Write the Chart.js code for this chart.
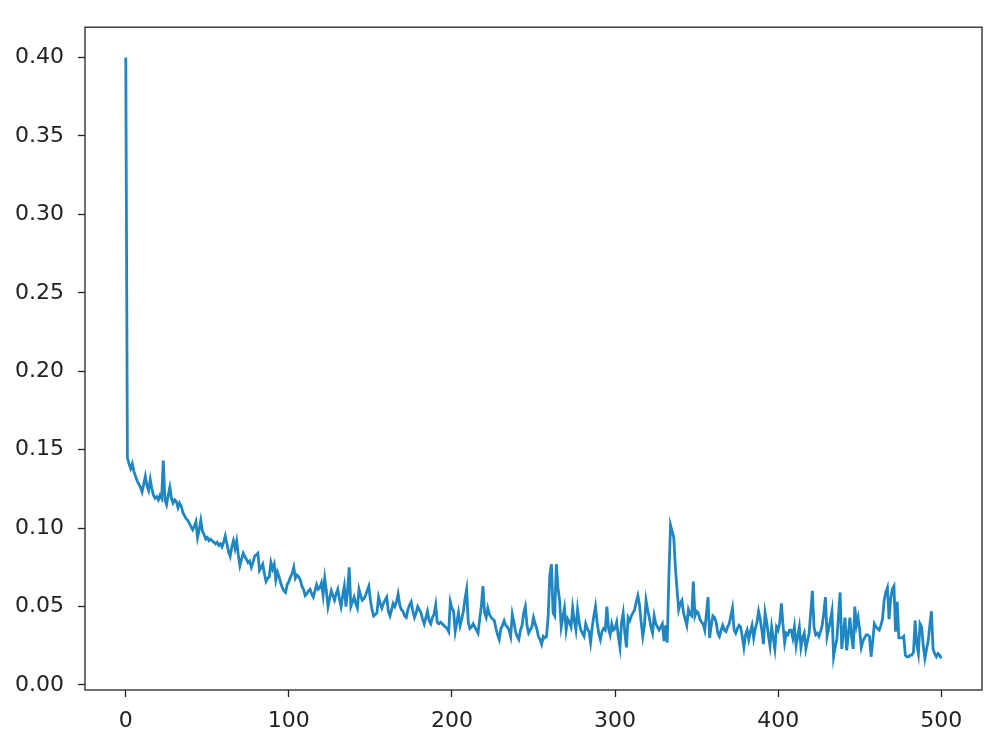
<!DOCTYPE html>
<html>
<head>
<meta charset="utf-8">
<script src="https://cdn.jsdelivr.net/npm/chart.js@4/dist/chart.umd.min.js"></script>
<style>
  html, body { margin: 0; padding: 0; background: #fff; }
  #lossChart { display: block; }
</style>
</head>
<body>
<canvas id="lossChart" width="1000" height="742"></canvas>
<script>
// courbe de loss sur 500 epochs

const lossValues = [
  0.400, 0.145, 0.141, 0.138, 0.141, 0.136, 0.133, 0.130, 0.128, 0.126,
  0.123, 0.128, 0.133, 0.127, 0.124, 0.131, 0.125, 0.121, 0.119, 0.120,
  0.118, 0.121, 0.119, 0.143, 0.118, 0.115, 0.121, 0.126, 0.119, 0.116,
  0.118, 0.117, 0.113, 0.116, 0.114, 0.110, 0.108, 0.106, 0.105, 0.103,
  0.101, 0.099, 0.101, 0.104, 0.094, 0.099, 0.105, 0.098, 0.096, 0.093,
  0.094, 0.092, 0.093, 0.092, 0.091, 0.090, 0.091, 0.089, 0.090, 0.088,
  0.091, 0.095, 0.090, 0.085, 0.082, 0.088, 0.092, 0.087, 0.092, 0.083,
  0.076, 0.080, 0.084, 0.082, 0.080, 0.078, 0.079, 0.075, 0.078, 0.082,
  0.083, 0.084, 0.073, 0.075, 0.077, 0.071, 0.066, 0.068, 0.069, 0.078,
  0.074, 0.077, 0.067, 0.072, 0.069, 0.065, 0.062, 0.060, 0.059, 0.064,
  0.066, 0.069, 0.071, 0.075, 0.068, 0.070, 0.069, 0.067, 0.063, 0.061,
  0.057, 0.058, 0.060, 0.061, 0.058, 0.056, 0.060, 0.064, 0.061, 0.062,
  0.065, 0.057, 0.068, 0.060, 0.050, 0.055, 0.060, 0.057, 0.054, 0.058,
  0.061, 0.055, 0.050, 0.057, 0.063, 0.050, 0.060, 0.075, 0.050, 0.053,
  0.056, 0.052, 0.049, 0.061, 0.057, 0.054, 0.055, 0.057, 0.060, 0.063,
  0.054, 0.048, 0.044, 0.045, 0.046, 0.056, 0.052, 0.049, 0.052, 0.054,
  0.056, 0.047, 0.044, 0.048, 0.052, 0.050, 0.053, 0.058, 0.051, 0.048,
  0.047, 0.044, 0.043, 0.048, 0.051, 0.053, 0.047, 0.043, 0.046, 0.050,
  0.048, 0.046, 0.042, 0.039, 0.043, 0.047, 0.041, 0.039, 0.043, 0.045,
  0.051, 0.040, 0.039, 0.040, 0.039, 0.038, 0.037, 0.036, 0.034, 0.053,
  0.049, 0.047, 0.034, 0.040, 0.046, 0.038, 0.042, 0.047, 0.055, 0.061,
  0.040, 0.036, 0.037, 0.039, 0.037, 0.035, 0.033, 0.042, 0.050, 0.063,
  0.046, 0.043, 0.049, 0.045, 0.043, 0.042, 0.041, 0.036, 0.032, 0.029,
  0.036, 0.038, 0.041, 0.038, 0.037, 0.035, 0.031, 0.045, 0.040, 0.034,
  0.031, 0.029, 0.035, 0.038, 0.046, 0.050, 0.038, 0.033, 0.035, 0.037,
  0.043, 0.039, 0.036, 0.031, 0.029, 0.026, 0.031, 0.030, 0.031, 0.044,
  0.070, 0.077, 0.046, 0.044, 0.077, 0.062, 0.054, 0.037, 0.043, 0.049,
  0.035, 0.042, 0.040, 0.037, 0.049, 0.041, 0.035, 0.048, 0.040, 0.035,
  0.033, 0.031, 0.039, 0.036, 0.034, 0.027, 0.037, 0.044, 0.050, 0.040,
  0.033, 0.029, 0.034, 0.036, 0.035, 0.050, 0.036, 0.032, 0.039, 0.035,
  0.036, 0.040, 0.031, 0.024, 0.040, 0.046, 0.033, 0.024, 0.043, 0.041,
  0.044, 0.046, 0.048, 0.053, 0.057, 0.051, 0.040, 0.031, 0.038, 0.054,
  0.048, 0.043, 0.037, 0.033, 0.044, 0.039, 0.037, 0.035, 0.037, 0.039,
  0.028, 0.038, 0.027, 0.069, 0.102, 0.098, 0.094, 0.075, 0.061, 0.048,
  0.052, 0.054, 0.046, 0.042, 0.038, 0.048, 0.045, 0.044, 0.066, 0.044,
  0.047, 0.046, 0.042, 0.040, 0.039, 0.035, 0.045, 0.056, 0.030, 0.038,
  0.044, 0.043, 0.040, 0.033, 0.031, 0.035, 0.038, 0.035, 0.034, 0.037,
  0.039, 0.044, 0.049, 0.035, 0.033, 0.036, 0.038, 0.037, 0.031, 0.024,
  0.032, 0.035, 0.029, 0.034, 0.038, 0.030, 0.036, 0.040, 0.047, 0.042,
  0.035, 0.026, 0.046, 0.040, 0.032, 0.025, 0.037, 0.030, 0.023, 0.037,
  0.035, 0.040, 0.052, 0.038, 0.027, 0.033, 0.032, 0.035, 0.035, 0.030,
  0.037, 0.025, 0.031, 0.037, 0.024, 0.030, 0.033, 0.023, 0.028, 0.033,
  0.047, 0.060, 0.037, 0.032, 0.033, 0.031, 0.034, 0.038, 0.046, 0.056,
  0.031, 0.036, 0.041, 0.047, 0.018, 0.024, 0.029, 0.044, 0.059, 0.023,
  0.033, 0.043, 0.022, 0.032, 0.043, 0.031, 0.023, 0.050, 0.038, 0.043,
  0.035, 0.024, 0.028, 0.030, 0.032, 0.032, 0.031, 0.018, 0.028, 0.039,
  0.037, 0.036, 0.035, 0.038, 0.042, 0.054, 0.059, 0.062, 0.042, 0.055,
  0.061, 0.063, 0.034, 0.053, 0.030, 0.030, 0.030, 0.031, 0.019, 0.018,
  0.018, 0.019, 0.019, 0.021, 0.041, 0.026, 0.020, 0.039, 0.037, 0.025,
  0.017, 0.023, 0.028, 0.038, 0.047, 0.023, 0.020, 0.018, 0.020, 0.019,
  0.017
];

const xTicks = [0, 100, 200, 300, 400, 500];
const yTicks = [0.00, 0.05, 0.10, 0.15, 0.20, 0.25, 0.30, 0.35, 0.40];

const inkColor = "#222222";
const lineColor = "#1f86c2";
const tickFont = { family: "'DejaVu Sans', sans-serif", size: 22 };

const points = lossValues.map((v, i) => ({ x: i, y: v }));

const ctx = document.getElementById("lossChart").getContext("2d");

new Chart(ctx, {
  type: "line",
  data: {
    datasets: [{
      data: points,
      borderColor: lineColor,
      borderWidth: 2.8,
      pointRadius: 0,
      tension: 0,
      fill: false
    }]
  },
  options: {
    responsive: false,
    animation: false,
    devicePixelRatio: 1,
    layout: {
      padding: { left: 0, right: 18, top: 23, bottom: 0 }
    },
    scales: {
      x: {
        type: "linear",
        min: -25,
        max: 525,
        afterBuildTicks: scale => {
          scale.ticks = xTicks.map(v => ({ value: v }));
        },
        afterFit: scale => { scale.height = 52; },
        ticks: {
          color: inkColor,
          font: tickFont,
          padding: 11,
          maxRotation: 0,
          callback: v => String(v)
        },
        grid: {
          drawOnChartArea: false,
          drawTicks: true,
          tickLength: 7,
          tickWidth: 1.3,
          tickColor: inkColor
        },
        border: { display: false }
      },
      y: {
        type: "linear",
        min: -0.0032,
        max: 0.4193,
        afterBuildTicks: scale => {
          scale.ticks = yTicks.map(v => ({ value: v }));
        },
        afterFit: scale => { scale.width = 85; },
        ticks: {
          color: inkColor,
          font: tickFont,
          padding: 14,
          callback: v => v.toFixed(2)
        },
        grid: {
          drawOnChartArea: false,
          drawTicks: true,
          tickLength: 7,
          tickWidth: 1.3,
          tickColor: inkColor
        },
        border: { display: false }
      }
    },
    plugins: {
      legend: { display: false },
      tooltip: { enabled: false }
    }
  },
  plugins: [{
    id: "cadre",
    afterDraw: chart => {
      const a = chart.chartArea;
      const c = chart.ctx;
      c.save();
      c.strokeStyle = inkColor;
      c.lineWidth = 1.3;
      c.strokeRect(a.left, a.top, a.right - a.left, a.bottom - a.top);
      c.restore();
    }
  }]
});
</script>
</body>
</html>
